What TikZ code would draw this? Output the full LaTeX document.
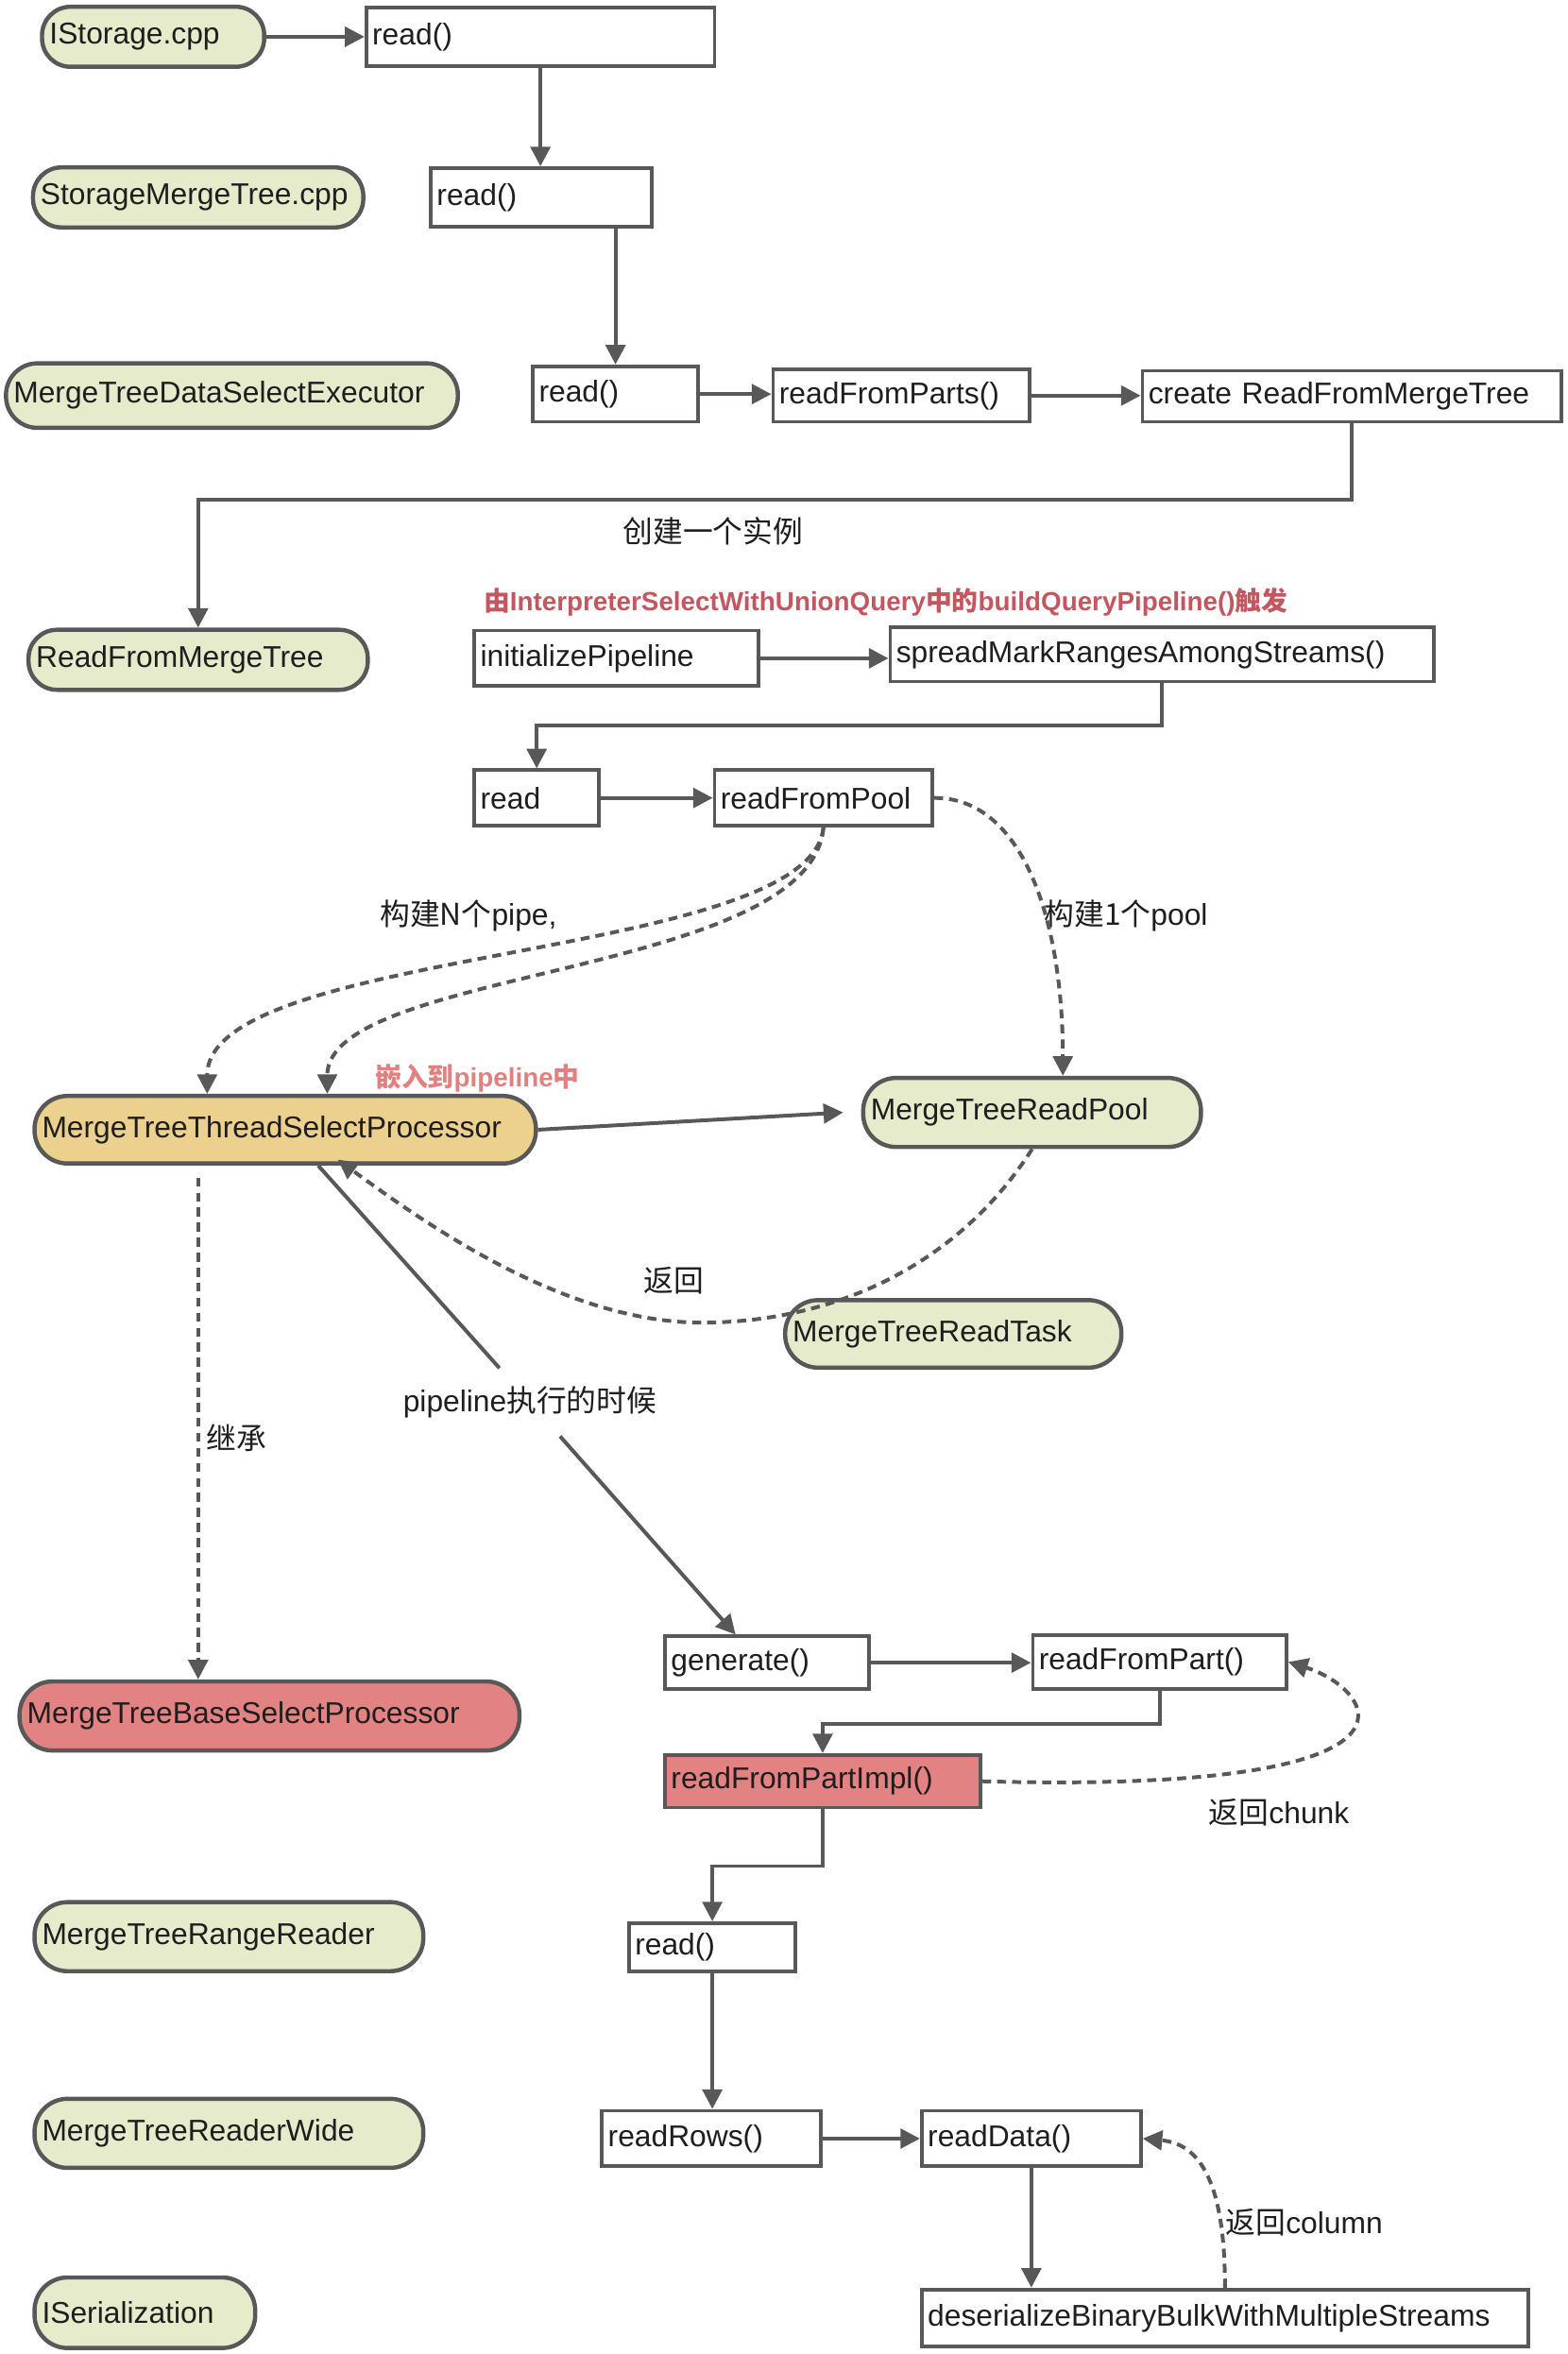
\documentclass[tikz,border=0pt]{standalone}
\usepackage{fontspec}
\setmainfont{Liberation Sans}
\newfontfamily\cjk{Noto Sans CJK SC}
\newcommand{\zh}[1]{{\cjk #1}}
\usetikzlibrary{arrows.meta, calc}

\definecolor{linegray}{RGB}{88,88,88}
\definecolor{pillgreen}{RGB}{230,236,203}
\definecolor{pillorange}{RGB}{236,208,142}
\definecolor{pillred}{RGB}{227,130,130}
\definecolor{notered}{RGB}{196,86,96}
\definecolor{notepink}{RGB}{226,128,128}
\definecolor{txt}{RGB}{30,30,30}

\tikzset{
  fnbox/.style={
    draw=linegray, line width=2.4pt, fill=white, text=txt,
    minimum height=37pt, inner xsep=4pt, inner ysep=0pt,
    text width=#1, align=left, font=\fontsize{20}{24}\selectfont
  },
  pill/.style={
    draw=linegray, line width=2.8pt, fill=pillgreen, text=txt,
    rounded corners=19pt, minimum height=40pt, inner xsep=5pt, inner ysep=0pt,
    text width=#1, align=left, font=\fontsize{20}{24}\selectfont
  },
  arrow/.style={-{Triangle[length=13pt,width=13pt]}, line width=2.5pt, draw=linegray},
  dasharrow/.style={arrow, dash pattern=on 6pt off 4pt},
  note/.style={font=\fontsize{20}{24}\selectfont, text=txt},
  rednote/.style={font=\fontsize{17.5}{21}\selectfont\bfseries, text=#1}
}

\begin{document}
\begin{tikzpicture}[x=1pt, y=-1pt]
\useasboundingbox (0,0) rectangle (1044,1568);

%% Left column: files / classes
\node[pill=138pt] (istorage) at (102,24.5) {IStorage.cpp};
\node[pill=210pt] (smt) at (132,131.5) {StorageMergeTree.cpp};
\node[pill=291pt, minimum height=43pt, rounded corners=21pt] (mtdse) at (154.5,263.5) {MergeTreeDataSelectExecutor};
\node[pill=216pt] (rfmt) at (132,439.5) {ReadFromMergeTree};
\node[pill=324pt, minimum height=45pt, rounded corners=22pt, fill=pillorange] (mttsp) at (190,752.5) {MergeTreeThreadSelectProcessor};
\node[pill=323pt, minimum height=46pt, rounded corners=22pt, fill=pillred] (mtbsp) at (179.5,1143) {MergeTreeBaseSelectProcessor};
\node[pill=249pt, minimum height=46pt, rounded corners=22pt] (mtrr) at (152.5,1290) {MergeTreeRangeReader};
\node[pill=249pt, minimum height=46pt, rounded corners=22pt] (mtrw) at (152.5,1421) {MergeTreeReaderWide};
\node[pill=137pt, minimum height=47pt, rounded corners=22pt] (iser) at (96.5,1540.5) {ISerialization};

%% Pool and task
\node[pill=215pt, minimum height=46pt, rounded corners=22pt] (mtrpool) at (687.5,741) {MergeTreeReadPool};
\node[pill=214pt, minimum height=45pt, rounded corners=22pt] (mtrtask) at (635,888.5) {MergeTreeReadTask};

%% Call chain: storage
\node[fnbox=224pt, minimum height=39pt] (read1) at (360,24.5) {read()};
\node[fnbox=139pt, minimum height=39pt] (read2) at (360.5,131.5) {read()};
\node[fnbox=102pt] (read3) at (410,262.5) {read()};
\node[fnbox=163pt, minimum height=35pt] (rfparts) at (600.5,263.5) {readFromParts()};
\node[fnbox=271pt, minimum height=34pt] (createrfmt) at (900.5,264) {create ReadFromMergeTree};

%% Call chain: pipeline
\node[fnbox=181pt] (initpipe) at (410.5,438.5) {initializePipeline};
\node[fnbox=354pt, minimum height=36pt] (spread) at (774,436) {spreadMarkRangesAmongStreams()};
\node[fnbox=75pt] (readb) at (357.5,531.5) {read};
\node[fnbox=137pt] (rfpool) at (548.5,531.5) {readFromPool};

%% Call chain: execution
\node[fnbox=128pt, minimum height=35pt] (generate) at (511,1107.5) {generate()};
\node[fnbox=161pt, minimum height=36pt] (rfpart) at (772.5,1107) {readFromPart()};
\node[fnbox=202pt, minimum height=35pt, fill=pillred] (rfpimpl) at (548,1186.5) {readFromPartImpl()};
\node[fnbox=103pt, minimum height=32pt] (read4) at (474.5,1297) {read()};
\node[fnbox=138pt] (readrows) at (474,1424.5) {readRows()};
\node[fnbox=138pt] (readdata) at (687,1424.5) {readData()};
\node[fnbox=396pt, minimum height=38pt] (deser) at (816,1544) {deserializeBinaryBulkWithMultipleStreams};

%% Notes
\node[note] (lblinst) at (475,354) {\zh{创建一个实例}};
\node[rednote=notered] (lbltrigger) at (590,401) {\zh{由}InterpreterSelectWithUnionQuery\zh{中的}buildQueryPipeline()\zh{触发}};
\node[note] (lblpipes) at (312,610) {\zh{构建N个}pipe,};
\node[note] (lblpool) at (750,610) {\zh{构建1个}pool};
\node[rednote=notepink] (lblembed) at (318,718) {\zh{嵌入到}pipeline\zh{中}};
\node[note] (lblret) at (449,853) {\zh{返回}};
\node[note, inner ysep=12pt] (lblexec) at (353,934) {pipeline\zh{执行的时候}};
\node[note, anchor=west] (lblinh) at (134,958) {\zh{继承}};
\node[note] (lblchunk) at (852,1207) {\zh{返回}chunk};
\node[note, anchor=west] (lblcol) at (813,1480) {\zh{返回}column};

%% Bends
\coordinate (bend1) at (132,333);
\coordinate (bend2) at (357.5,483);
\coordinate (bend3) at (548,1148);
\coordinate (bend4) at (474.5,1243);
\coordinate (inhtop) at ([xshift=-58pt]mttsp.south);

%% Solid arrows
\draw[arrow] (istorage) -- (read1);
\draw[arrow] (read1.south) -- (read1.south |- read2.north);
\draw[arrow] (read3.north |- read2.south) -- (read3.north);
\draw[arrow] (read3.east) -- (read3.east -| rfparts.west);
\draw[arrow] (rfparts.east) -- (rfparts.east -| createrfmt.west);
\draw[arrow] (createrfmt.south) |- (bend1) -- (rfmt.north);
\draw[arrow] (initpipe.east) -- (initpipe.east -| spread.west);
\draw[arrow] (spread.south) |- (bend2) -- (readb.north);
\draw[arrow] (readb) -- (rfpool);
\draw[arrow] (mttsp.east) -- ([xshift=-12pt]mtrpool.west);
\draw[line width=2.5pt, draw=linegray] ([xshift=22pt]mttsp.south) -- (lblexec);
\draw[arrow] (lblexec) -- ([xshift=-21pt]generate.north);
\draw[arrow] (generate.east) -- (generate.east -| rfpart.west);
\draw[arrow] (rfpart.south) |- (bend3) -- (rfpimpl.north);
\draw[arrow] (rfpimpl.south) |- (bend4) -- (read4.north);
\draw[arrow] (read4.south) -- (read4.south |- readrows.north);
\draw[arrow] (readrows) -- (readdata);
\draw[arrow] (readdata.south) -- (readdata.south |- deser.north);

%% Dashed arrows
\draw[dasharrow] (rfpool.south) .. controls (540,640) and (138,630) .. ([xshift=-52pt]mttsp.north);
\draw[dasharrow] (rfpool.south) .. controls (540,650) and (218,645) .. ([xshift=28pt]mttsp.north);
\draw[dasharrow] (rfpool.east) .. controls (680,531) and (708,610) .. ([xshift=20.5pt]mtrpool.north);
\draw[dasharrow] (mtrpool.south) .. controls (640,840) and (560,880) .. (470,881)
  .. controls (380,882) and (290,820) .. ([xshift=35pt,yshift=4pt]mttsp.south);
\draw[dasharrow, shorten <=8pt] (inhtop) -- (inhtop |- mtbsp.north);
\draw[dasharrow] (rfpimpl.east) .. controls (970,1195) and (915,1125) .. (rfpart.east);
\draw[dasharrow] (deser.north) .. controls (816,1455) and (800,1428) .. (readdata.east);

\end{tikzpicture}
\end{document}
